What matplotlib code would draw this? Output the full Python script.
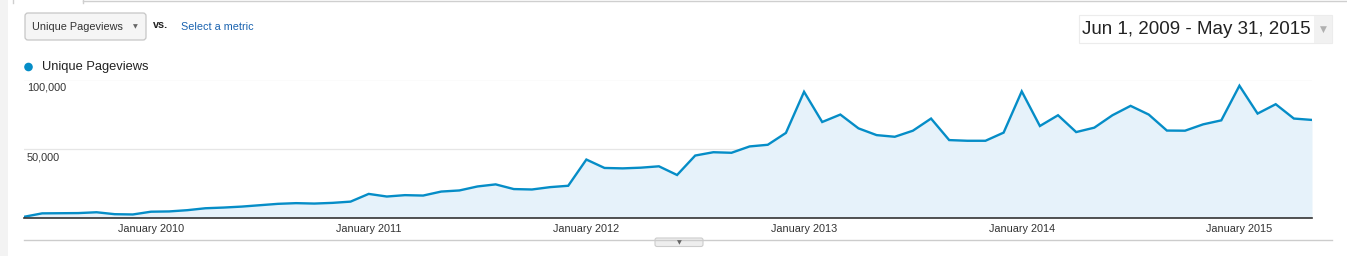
import numpy as np
import matplotlib
matplotlib.use("Agg")
from matplotlib import pyplot as plt
from matplotlib import transforms as mtransforms
from matplotlib.patches import FancyBboxPatch, Rectangle, Circle

plt.rcParams['font.family'] = ['Liberation Sans', 'DejaVu Sans']

# Unique pageviews per month, Jun 2009 - May 2015
pageviews = [
    500, 3000, 3100, 3200, 3800, 2400, 2200, 4200, 4400, 5300, 6700, 7200,
    7900, 8900, 9900, 10400, 10100, 10600, 11500, 17100, 15200, 16200, 15900, 18800,
    19600, 22500, 24000, 20600, 20300, 22000, 23000, 42000, 35900, 35600, 36100, 37100,
    30800, 44900, 47300, 46900, 51500, 52700, 61300, 91100, 69200, 74600, 64600, 59700,
    58500, 62900, 71700, 56100, 55600, 55600, 61500, 91400, 66300, 74100, 61900, 65100,
    74100, 80900, 74600, 63000, 62900, 67500, 70400, 95500, 75300, 82100, 71700, 70700,
]
tick_positions = [7, 19, 31, 43, 55, 67]
tick_labels = ['January 2010', 'January 2011', 'January 2012',
               'January 2013', 'January 2014', 'January 2015']
y_ticks = [50000, 100000]
y_tick_labels = ['50,000', '100,000']
metric_name = 'Unique Pageviews'
date_range = 'Jun 1, 2009 - May 31, 2015'

W, H = 1347, 256
LINE = '#058dc7'
FILL = '#e6f2fa'
TEXT = '#333333'

fig = plt.figure(figsize=(W / 100, H / 100), dpi=100)
fig.patch.set_facecolor('white')

# overlay in pixel coordinates (top-down) for the page furniture
ov = fig.add_axes([0, 0, 1, 1])
ov.set_xlim(0, W)
ov.set_ylim(H, 0)
ov.axis('off')

ov.add_patch(Rectangle((0, 0), 8, H, facecolor='#f3f3f3', edgecolor='none'))
ov.plot([83, W], [1.2, 1.2], color='#cfcfcf', lw=1)
ov.plot([13, 13], [0, 3], color='#cfcfcf', lw=1)
ov.plot([83, 83], [0, 3], color='#cfcfcf', lw=1)

# metric dropdown
ov.add_patch(FancyBboxPatch((25, 13), 121, 27, boxstyle='round,pad=0,rounding_size=3',
                            facecolor='#f5f5f5', edgecolor='#c6c6c6', lw=0.9))
ov.text(32, 27, metric_name, fontsize=7.8, color=TEXT, va='center', ha='left')
ov.text(135, 27, '\u25bc', fontsize=4.5, color='#666666', va='center', ha='center',
        family=['DejaVu Sans'])
ov.text(153, 25.5, 'vs.', fontsize=7.8, color='#222222', va='center', ha='left', fontweight='bold')
ov.text(181, 27, 'Select a metric', fontsize=7.8, color='#1a63b0', va='center', ha='left')

# date range box
ov.add_patch(Rectangle((1079, 15), 253, 28, facecolor='white', edgecolor='#ececec', lw=0.8))
ov.add_patch(Rectangle((1314, 15.5), 17.5, 27, facecolor='#f1f1f1', edgecolor='none'))
ov.text(1082, 29.5, date_range, fontsize=13.5, color='#222222', va='center', ha='left')
ov.text(1323, 29.5, '\u25bc', fontsize=6.5, color='#b0b0b0', va='center', ha='center',
        family=['DejaVu Sans'])

# legend
ov.add_patch(Circle((28.5, 67), 4.3, facecolor=LINE, edgecolor='none'))
ov.text(42, 67, metric_name, fontsize=9.3, color='#222222', va='center', ha='left')

# bottom rule and collapse tab
ov.plot([24, 1332], [239.5, 239.5], color='#cccccc', lw=1)
ov.add_patch(FancyBboxPatch((655, 238), 48, 8.5, boxstyle='round,pad=0,rounding_size=2',
                            facecolor='#eeeeee', edgecolor='#cccccc', lw=0.8))
ov.text(679, 242.5, '\u25bc', fontsize=4.5, color='#666666', va='center', ha='center',
        family=['DejaVu Sans'])

# main chart
left, right = 24, 1312
bottom_px, top_px = 217.5, 79.5
ax = fig.add_axes([left / W, (H - bottom_px) / H, (right - left) / W, (bottom_px - top_px) / H])
ax.patch.set_alpha(0)

x = np.arange(len(pageviews))
ax.fill_between(x, pageviews, 0, color=FILL, lw=0, zorder=1)
ax.plot(x, pageviews, color=LINE, lw=1.7, solid_joinstyle='miter', zorder=3)

ax.set_xlim(0, len(pageviews) - 1)
ax.set_ylim(0, 100000)
ax.set_xticks(tick_positions)
ax.set_xticklabels(tick_labels, fontsize=7.8, color=TEXT)
ax.tick_params(axis='x', length=0, pad=4.5)
ax.set_yticks(y_ticks)
ax.set_yticklabels([])
ax.tick_params(axis='y', length=0)
ax.yaxis.grid(True, color='#e6e6e6', lw=0.9, zorder=0)
ax.set_axisbelow(True)
for side in ['top', 'right', 'left']:
    ax.spines[side].set_visible(False)
ax.spines['bottom'].set_color('#333333')
ax.spines['bottom'].set_linewidth(1.2)
ax.spines['bottom'].set_zorder(4)

# y labels sit inside the plot, just under their gridline
lbl_trans = ax.get_yaxis_transform() + mtransforms.ScaledTranslation(3 / 100, -3.5 / 100, fig.dpi_scale_trans)
for val, lab in zip(y_ticks, y_tick_labels):
    ax.text(0, val, lab, transform=lbl_trans, fontsize=7.8, color=TEXT, ha='left', va='top', zorder=5)

fig.savefig('out.png', dpi=100, facecolor='white')
